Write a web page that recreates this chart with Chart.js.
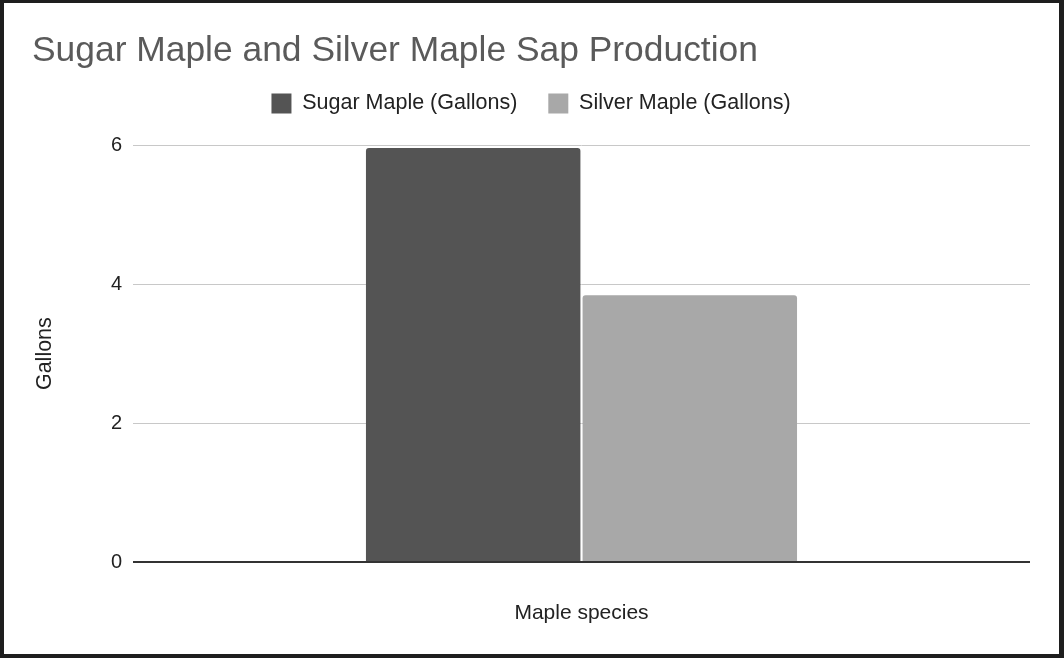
<!DOCTYPE html>
<html>
<head>
<meta charset="utf-8">
<script src="https://cdn.jsdelivr.net/npm/chart.js@4.4.1/dist/chart.umd.min.js"></script>
<style>
  html, body { margin: 0; padding: 0; background: #fff; }
  #frame {
    width: 1064px; height: 658px; box-sizing: border-box;
    border-style: solid; border-color: #1e1e1e;
    border-width: 3px 5px 4px 4px;
  }
  #wrap { position: relative; width: 1055px; height: 651px; }
</style>
</head>
<body>
<div id="frame"><div id="wrap"><canvas id="c"></canvas></div></div>
<script>
const categories = [''];
const seriesNames = ['Sugar Maple (Gallons)', 'Silver Maple (Gallons)'];
const sugarValues = [5.96];
const silverValues = [3.84];
const yTicks = [0, 2, 4, 6];

const FONT = 'Arial, "Liberation Sans", sans-serif';

// zero line sits on top of the bars
const zeroLine = {
  id: 'zeroLine',
  afterDatasetsDraw(chart) {
    const { ctx, chartArea, scales: { y } } = chart;
    const py = y.getPixelForValue(0);
    ctx.save();
    ctx.strokeStyle = '#333333'; ctx.lineWidth = 2;
    ctx.beginPath(); ctx.moveTo(chartArea.left, py); ctx.lineTo(chartArea.right, py); ctx.stroke();
    ctx.restore();
  },
};

new Chart(document.getElementById('c'), {
  type: 'bar',
  data: {
    labels: categories,
    datasets: [
      { label: seriesNames[0], data: sugarValues, backgroundColor: '#545454', borderRadius: 3 },
      { label: seriesNames[1], data: silverValues, backgroundColor: '#a8a8a8', borderRadius: 3 },
    ],
  },
  options: {
    responsive: true, maintainAspectRatio: false, animation: false,
    layout: { padding: { left: 28, right: 29, top: 0, bottom: 28 } },
    categoryPercentage: 0.483, barPercentage: 0.99,
    plugins: {
      title: {
        display: true, text: 'Sugar Maple and Silver Maple Sap Production',
        align: 'start', color: '#5a5a5a',
        font: { family: FONT, size: 35.4, weight: 'normal', lineHeight: 0.6 },
        padding: { top: 37.5, bottom: 0 },
      },
      // empty spacer between legend and plot
      subtitle: {
        display: true, text: '', weight: 500,
        font: { size: 10, lineHeight: 2.1 }, padding: 0,
      },
      legend: {
        labels: {
          color: '#222222', boxWidth: 20, boxHeight: 20, padding: 31,
          font: { family: FONT, size: 21.5 },
        },
      },
      tooltip: { enabled: false },
    },
    scales: {
      x: {
        grid: { display: false }, border: { display: false },
        ticks: { display: false },
        title: { display: true, text: 'Maple species', color: '#222222', padding: 0, font: { family: FONT, size: 21 } },
        afterFit: s => { s.height = 64; },
      },
      y: {
        min: 0, max: 6,
        afterBuildTicks: s => { s.ticks = yTicks.map(v => ({ value: v })); },
        border: { display: false },
        grid: { color: '#c8c8c8', lineWidth: 1, drawTicks: false },
        ticks: { color: '#222222', padding: 11, font: { family: FONT, size: 20 } },
        title: { display: true, text: 'Gallons', color: '#222222', padding: 0, font: { family: FONT, size: 21.5 } },
        afterFit: s => { s.width = 101; },
      },
    },
  },
  plugins: [zeroLine],
});
</script>
</body>
</html>
